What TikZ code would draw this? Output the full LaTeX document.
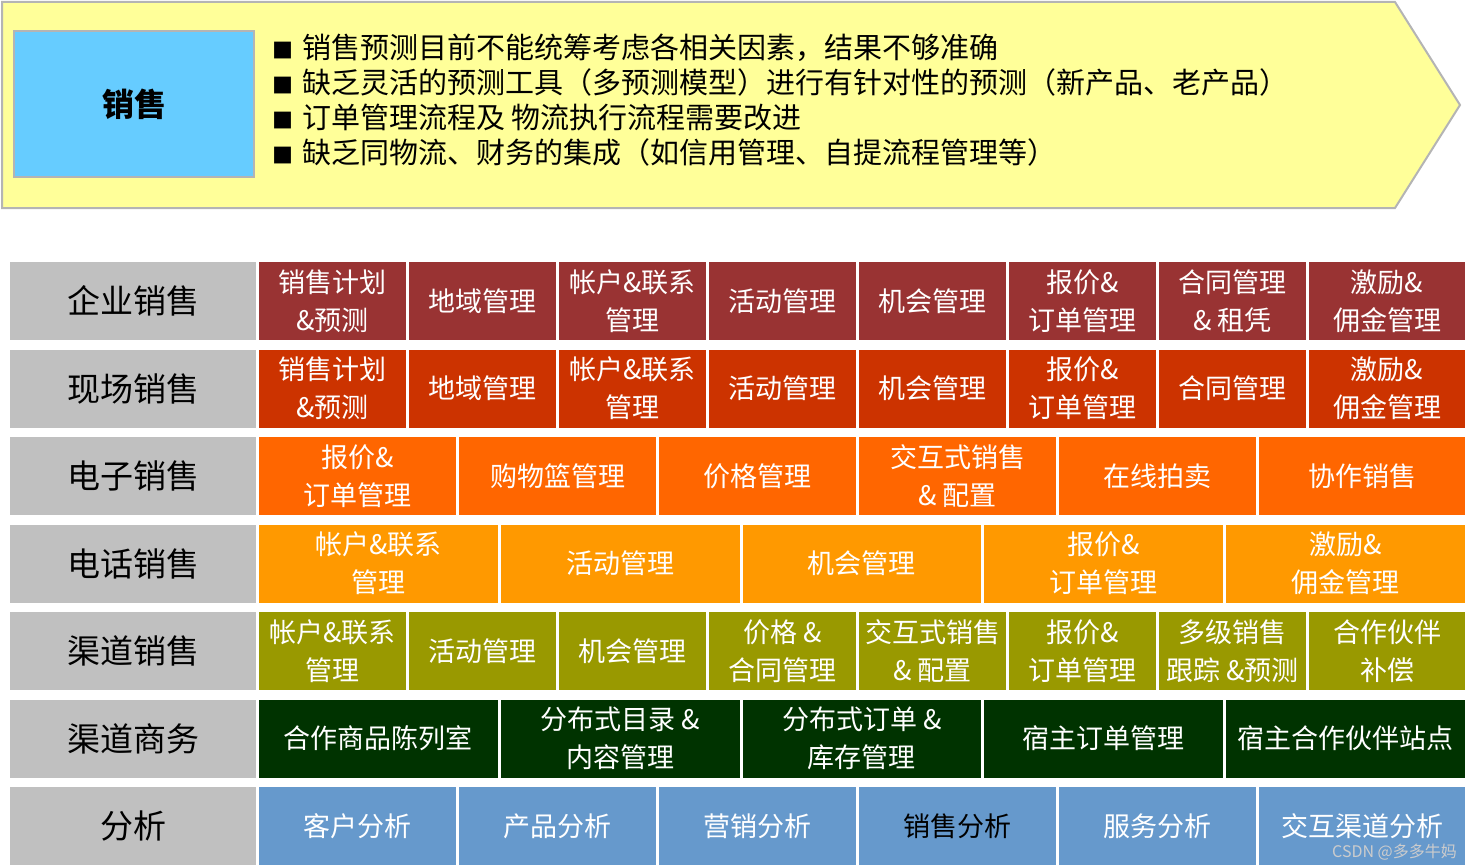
\documentclass[tikz,border=0pt]{standalone}
\usepackage{fontspec}
\setmainfont{Noto Sans CJK SC}
\usetikzlibrary{positioning}

\definecolor{bannerfill}{HTML}{FFFF99}
\definecolor{bannerline}{HTML}{B4B4B4}
\definecolor{headfill}{HTML}{66CCFF}
\definecolor{labelgray}{HTML}{C0C0C0}
\definecolor{qiye}{HTML}{993333}
\definecolor{xianchang}{HTML}{CC3300}
\definecolor{dianzi}{HTML}{FF6600}
\definecolor{dianhua}{HTML}{FF9900}
\definecolor{qudao}{HTML}{999900}
\definecolor{shangwu}{HTML}{003300}
\definecolor{fenxi}{HTML}{6699CC}

\newcommand{\sqbullet}{{\fontsize{21}{21}\selectfont ■}\hspace{9pt}}

\begin{document}
\begin{tikzpicture}[x=1pt, y=-1pt,
    rowlabel/.style={fill=labelgray, minimum width=246pt, minimum height=78pt, inner sep=0pt, outer sep=0pt, font=\fontsize{33}{36}\selectfont},
    cell/.style={minimum height=78pt, inner sep=0pt, outer sep=0pt, text=white, align=center, font=\fontsize{27}{38}\selectfont},
    c8/.style={cell, minimum width=147pt},
    c8end/.style={cell, minimum width=156pt},
    c6/.style={cell, minimum width=197pt},
    c6end/.style={cell, minimum width=206pt},
    c5/.style={cell, minimum width=238.75pt}]
      \useasboundingbox (0,0) rectangle (1472,867);

      % banner
      \draw[fill=bannerfill, draw=bannerline, line width=2pt] (2,2) -- (1395,2) -- (1460,105) -- (1395,208) -- (2,208) -- cycle;
      \node[fill=headfill, draw=bannerline, line width=1.5pt, minimum width=240pt, minimum height=146pt, font=\bfseries\fontsize{32}{36}\selectfont] (xiaoshou) at (134,104) {销售};
      \node[anchor=west, align=left, inner sep=0pt, font=\fontsize{29}{35}\selectfont] (issues) at (272,100) {\sqbullet 销售预测目前不能统筹考虑各相关因素，结果不够准确\\\sqbullet 缺乏灵活的预测工具（多预测模型）进行有针对性的预测（新产品、老产品）\\\sqbullet 订单管理流程及 物流执行流程需要改进\\\sqbullet 缺乏同物流、财务的集成（如信用管理、自提流程管理等）};

      % 企业销售
      \node[rowlabel] (a0) at (133,301) {企业销售};
      \node[c8, fill=qiye] (a1) [right = 3pt of a0] {销售计划\\\&预测};
      \node[c8, fill=qiye] (a2) [right = 3pt of a1] {地域管理};
      \node[c8, fill=qiye] (a3) [right = 3pt of a2] {帐户\&联系\\管理};
      \node[c8, fill=qiye] (a4) [right = 3pt of a3] {活动管理};
      \node[c8, fill=qiye] (a5) [right = 3pt of a4] {机会管理};
      \node[c8, fill=qiye] (a6) [right = 3pt of a5] {报价\&\\订单管理};
      \node[c8, fill=qiye] (a7) [right = 3pt of a6] {合同管理\\\& 租凭};
      \node[c8end, fill=qiye] (a8) [right = 3pt of a7] {激励\&\\佣金管理};

      % 现场销售
      \node[rowlabel] (b0) at (133,388.5) {现场销售};
      \node[c8, fill=xianchang] (b1) [right = 3pt of b0] {销售计划\\\&预测};
      \node[c8, fill=xianchang] (b2) [right = 3pt of b1] {地域管理};
      \node[c8, fill=xianchang] (b3) [right = 3pt of b2] {帐户\&联系\\管理};
      \node[c8, fill=xianchang] (b4) [right = 3pt of b3] {活动管理};
      \node[c8, fill=xianchang] (b5) [right = 3pt of b4] {机会管理};
      \node[c8, fill=xianchang] (b6) [right = 3pt of b5] {报价\&\\订单管理};
      \node[c8, fill=xianchang] (b7) [right = 3pt of b6] {合同管理};
      \node[c8end, fill=xianchang] (b8) [right = 3pt of b7] {激励\&\\佣金管理};

      % 电子销售
      \node[rowlabel] (c0) at (133,476) {电子销售};
      \node[c6, fill=dianzi] (c1) [right = 3pt of c0] {报价\&\\订单管理};
      \node[c6, fill=dianzi] (c2) [right = 3pt of c1] {购物篮管理};
      \node[c6, fill=dianzi] (c3) [right = 3pt of c2] {价格管理};
      \node[c6, fill=dianzi] (c4) [right = 3pt of c3] {交互式销售\\\& 配置};
      \node[c6, fill=dianzi] (c5) [right = 3pt of c4] {在线拍卖};
      \node[c6end, fill=dianzi] (c6) [right = 3pt of c5] {协作销售};

      % 电话销售
      \node[rowlabel] (d0) at (133,563.5) {电话销售};
      \node[c5, fill=dianhua] (d1) [right = 3pt of d0] {帐户\&联系\\管理};
      \node[c5, fill=dianhua] (d2) [right = 3pt of d1] {活动管理};
      \node[c5, fill=dianhua] (d3) [right = 3pt of d2] {机会管理};
      \node[c5, fill=dianhua] (d4) [right = 3pt of d3] {报价\&\\订单管理};
      \node[c5, fill=dianhua] (d5) [right = 3pt of d4] {激励\&\\佣金管理};

      % 渠道销售
      \node[rowlabel] (e0) at (133,651) {渠道销售};
      \node[c8, fill=qudao] (e1) [right = 3pt of e0] {帐户\&联系\\管理};
      \node[c8, fill=qudao] (e2) [right = 3pt of e1] {活动管理};
      \node[c8, fill=qudao] (e3) [right = 3pt of e2] {机会管理};
      \node[c8, fill=qudao] (e4) [right = 3pt of e3] {价格 \&\\合同管理};
      \node[c8, fill=qudao] (e5) [right = 3pt of e4] {交互式销售\\\& 配置};
      \node[c8, fill=qudao] (e6) [right = 3pt of e5] {报价\&\\订单管理};
      \node[c8, fill=qudao] (e7) [right = 3pt of e6] {多级销售\\跟踪 \&预测};
      \node[c8end, fill=qudao] (e8) [right = 3pt of e7] {合作伙伴\\补偿};

      % 渠道商务
      \node[rowlabel] (f0) at (133,738.5) {渠道商务};
      \node[c5, fill=shangwu] (f1) [right = 3pt of f0] {合作商品陈列室};
      \node[c5, fill=shangwu] (f2) [right = 3pt of f1] {分布式目录 \&\\内容管理};
      \node[c5, fill=shangwu] (f3) [right = 3pt of f2] {分布式订单 \&\\库存管理};
      \node[c5, fill=shangwu] (f4) [right = 3pt of f3] {宿主订单管理};
      \node[c5, fill=shangwu] (f5) [right = 3pt of f4] {宿主合作伙伴站点};

      % 分析
      \node[rowlabel] (g0) at (133,826) {分析};
      \node[c6, fill=fenxi] (g1) [right = 3pt of g0] {客户分析};
      \node[c6, fill=fenxi] (g2) [right = 3pt of g1] {产品分析};
      \node[c6, fill=fenxi] (g3) [right = 3pt of g2] {营销分析};
      \node[c6, fill=fenxi, text=black] (g4) [right = 3pt of g3] {销售分析};
      \node[c6, fill=fenxi] (g5) [right = 3pt of g4] {服务分析};
      \node[c6end, fill=fenxi] (g6) [right = 3pt of g5] {交互渠道分析};

      \node[anchor=south east, inner sep=0pt, text=gray!40!white, font=\fontsize{16}{18}\selectfont] (csdn) at (1457,860) {CSDN @多多牛妈};
    \end{tikzpicture}
\end{document}
